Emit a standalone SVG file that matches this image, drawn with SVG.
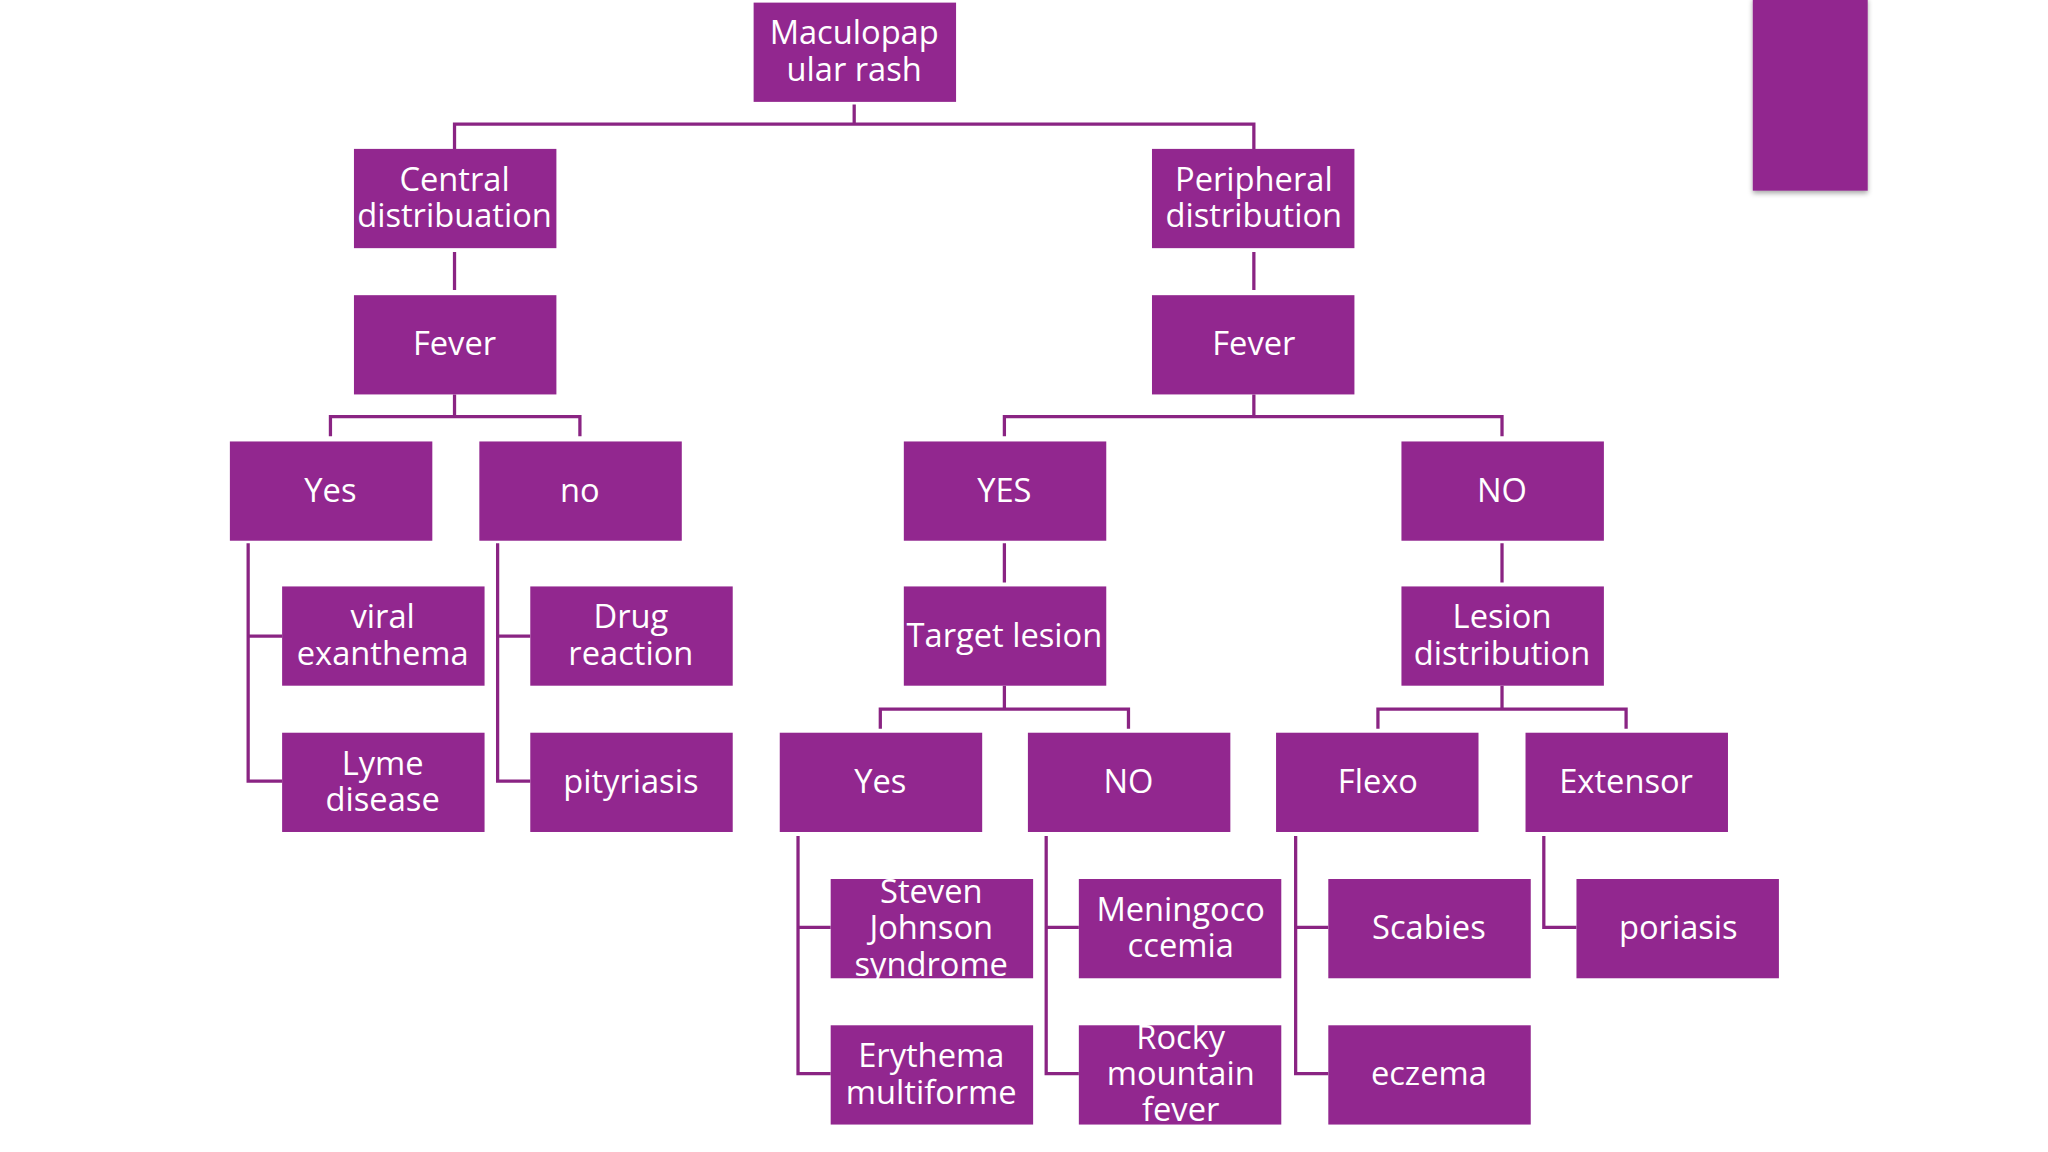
<svg xmlns="http://www.w3.org/2000/svg" width="2048" height="1152" viewBox="0 0 2048 1152">
<style>
.n rect{fill:#92278F}
.n text{fill:#fff;font-family:"Open Sans","Liberation Sans",sans-serif;font-size:25px;text-anchor:middle}
.c path{fill:none;stroke:#8A2483;stroke-width:2.5}
</style>
<defs><filter id="sh"><feDropShadow dx="0" dy="2" stdDeviation="2" flood-opacity="0.35"/></filter></defs>
<rect width="2048" height="1152" fill="#fff"/>
<g transform="scale(1.3061)">
<rect x="1342" y="-2" width="88" height="148" fill="#92278F" filter="url(#sh)"/>
<g class="c">
<path d="M654 80V95M348 114V95H960V114"/>
<path d="M348 193V222M960 193V222"/>
<path d="M348 302V319M253 334V319H444V334M960 302V319M769 334V319H1150V334"/>
<path d="M190 416V598H216M190 487H216M381 416V598H406M381 487H406"/>
<path d="M769 416V446M1150 416V446"/>
<path d="M769 525V543M674 558V543H864V558M1150 525V543M1055 558V543H1245V558"/>
<path d="M611 640V822H636M611 710H636M801 640V822H826M801 710H826M992 640V822H1017M992 710H1017M1182 640V710H1207"/>
</g>
<g id="n1" class="n"><rect x="577" y="2" width="155" height="76"/><text x="654" y="34">Maculopap</text><text x="654" y="62">ular rash</text></g>
<g id="n2" class="n"><rect x="271" y="114" width="155" height="76"/><text x="348" y="146">Central</text><text x="348" y="174">distribuation</text></g>
<g id="n3" class="n"><rect x="882" y="114" width="155" height="76"/><text x="960" y="146">Peripheral</text><text x="960" y="174">distribution</text></g>
<g id="n4" class="n"><rect x="271" y="226" width="155" height="76"/><text x="348" y="272">Fever</text></g>
<g id="n5" class="n"><rect x="882" y="226" width="155" height="76"/><text x="960" y="272">Fever</text></g>
<g id="n6" class="n"><rect x="176" y="338" width="155" height="76"/><text x="253" y="384">Yes</text></g>
<g id="n7" class="n"><rect x="367" y="338" width="155" height="76"/><text x="444" y="384">no</text></g>
<g id="n8" class="n"><rect x="692" y="338" width="155" height="76"/><text x="769" y="384">YES</text></g>
<g id="n9" class="n"><rect x="1073" y="338" width="155" height="76"/><text x="1150" y="384">NO</text></g>
<g id="n10" class="n"><rect x="216" y="449" width="155" height="76"/><text x="293" y="481">viral</text><text x="293" y="509">exanthema</text></g>
<g id="n11" class="n"><rect x="406" y="449" width="155" height="76"/><text x="483" y="481">Drug</text><text x="483" y="509">reaction</text></g>
<g id="n12" class="n"><rect x="692" y="449" width="155" height="76"/><text x="769" y="495">Target lesion</text></g>
<g id="n13" class="n"><rect x="1073" y="449" width="155" height="76"/><text x="1150" y="481">Lesion</text><text x="1150" y="509">distribution</text></g>
<g id="n14" class="n"><rect x="216" y="561" width="155" height="76"/><text x="293" y="593">Lyme</text><text x="293" y="621">disease</text></g>
<g id="n15" class="n"><rect x="406" y="561" width="155" height="76"/><text x="483" y="607">pityriasis</text></g>
<g id="n16" class="n"><rect x="597" y="561" width="155" height="76"/><text x="674" y="607">Yes</text></g>
<g id="n17" class="n"><rect x="787" y="561" width="155" height="76"/><text x="864" y="607">NO</text></g>
<g id="n18" class="n"><rect x="977" y="561" width="155" height="76"/><text x="1055" y="607">Flexo</text></g>
<g id="n19" class="n"><rect x="1168" y="561" width="155" height="76"/><text x="1245" y="607">Extensor</text></g>
<g id="n20" class="n"><rect x="636" y="673" width="155" height="76"/><text x="713" y="691">Steven</text><text x="713" y="719">Johnson</text><text x="713" y="747">syndrome</text></g>
<g id="n21" class="n"><rect x="826" y="673" width="155" height="76"/><text x="904" y="705">Meningoco</text><text x="904" y="733">ccemia</text></g>
<g id="n22" class="n"><rect x="1017" y="673" width="155" height="76"/><text x="1094" y="719">Scabies</text></g>
<g id="n23" class="n"><rect x="1207" y="673" width="155" height="76"/><text x="1285" y="719">poriasis</text></g>
<g id="n24" class="n"><rect x="636" y="785" width="155" height="76"/><text x="713" y="817">Erythema</text><text x="713" y="845">multiforme</text></g>
<g id="n25" class="n"><rect x="826" y="785" width="155" height="76"/><text x="904" y="803">Rocky</text><text x="904" y="831">mountain</text><text x="904" y="858">fever</text></g>
<g id="n26" class="n"><rect x="1017" y="785" width="155" height="76"/><text x="1094" y="831">eczema</text></g>
</g>
</svg>
